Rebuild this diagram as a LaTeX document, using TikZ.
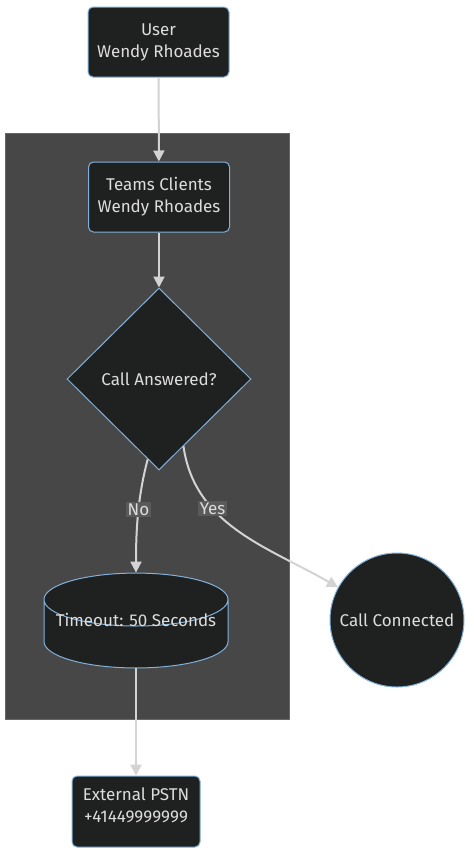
\documentclass[tikz,border=0pt]{standalone}
\usepackage{fontspec}
\setmainfont{Fira Sans}
\usetikzlibrary{shapes.geometric, arrows.meta}
\definecolor{nodefill}{HTML}{1F2020}
\definecolor{nodeline}{HTML}{81B1DB}
\definecolor{nodetext}{HTML}{DDDDDD}
\definecolor{groupfill}{HTML}{474747}
\definecolor{groupline}{HTML}{666666}
\definecolor{edgeline}{HTML}{D3D3D3}
\definecolor{labelfill}{HTML}{5A5A5A}
\tikzstyle{base} = [draw=nodeline, fill=nodefill, text=nodetext, line width=1pt, align=center, inner sep=0pt, font=\fontsize{17}{22}\selectfont]
\tikzstyle{box} = [base, rectangle, rounded corners=5pt, minimum width=141pt, minimum height=70pt]
\tikzstyle{decision} = [base, diamond, minimum width=184pt, minimum height=182pt]
\tikzstyle{store} = [base, cylinder, shape border rotate=90, aspect=0.33, minimum width=184pt, minimum height=90pt, text height=7.5pt, text depth=7.5pt]
\tikzstyle{endpoint} = [base, circle, minimum size=134pt]
\tikzstyle{groupbox} = [rectangle, draw=groupline, fill=groupfill, line width=1pt, minimum width=284pt, minimum height=586pt, inner sep=0pt]
\tikzstyle{lbl} = [fill=labelfill, text=nodetext, inner sep=1.5pt, font=\fontsize{17}{20}\selectfont]
\tikzstyle{arrow} = [line width=2pt, draw=edgeline, -{Triangle[length=11pt,width=11pt,fill=edgeline]}]

\begin{document}
\begin{tikzpicture}[x=1pt, y=1pt]
        \fill[white] (0,0) rectangle (474,-852);
        \useasboundingbox (0,0) rectangle (474,-852);
        % Group
        \node[groupbox] (G) at (147,-426) {};
        % Node positions
        \node[box] (U) at (158.5,-42) {User\\Wendy Rhoades};
        \node[box] (T) at (159,-197) {Teams Clients\\Wendy Rhoades};
        \node[decision] (Q) at (159,-379) {Call Answered?};
        \node[store] (W) at (136,-634) {\raisebox{8pt}{Timeout: 50 Seconds}};
        \node[endpoint] (C) at (397,-620) {Call Connected};
        \node[box, minimum width=128pt, minimum height=71pt, text depth=12pt] (P) at (136,-811.5) {External PSTN\\+41449999999};

        \draw[arrow] (U) -- (T);
        \draw[arrow] (T) -- (Q);
        \draw[arrow] (Q.-98) .. controls +(-105:40) and +(90:40) .. node[lbl, pos=0.45] {No} (W.north);
        \draw[arrow] (Q.-70) .. controls +(-82:80) and +(150:80) .. node[lbl, pos=0.33] {Yes} (C.151);
        \draw[arrow] (W.south) -- (P);
\end{tikzpicture}
\end{document}
